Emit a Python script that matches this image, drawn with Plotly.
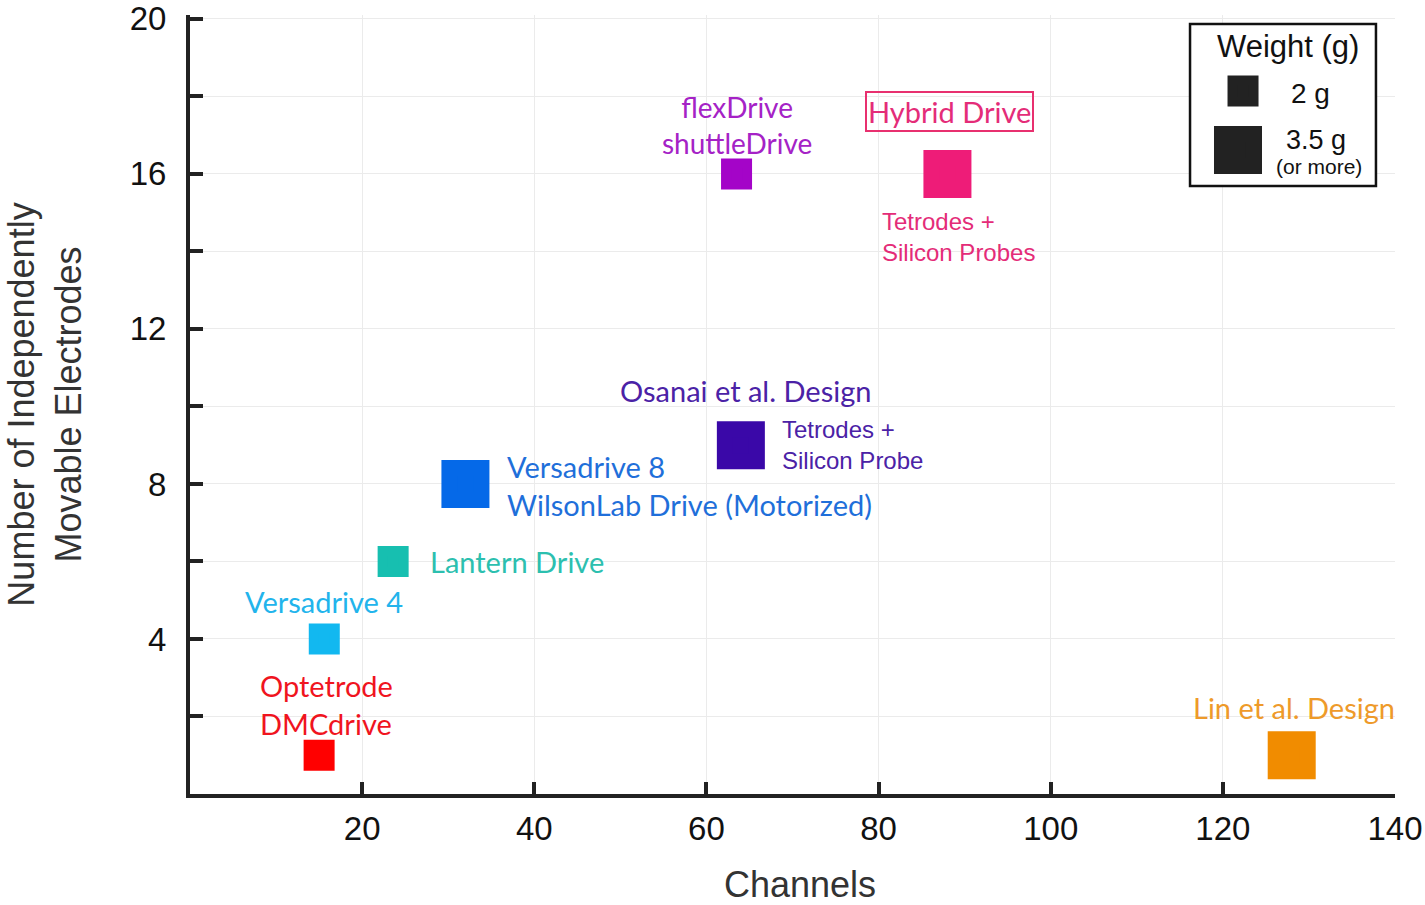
import plotly.graph_objects as go

# ---------------- data ----------------
drive_names = ["Optetrode / DMCdrive", "Versadrive 4", "Lantern Drive",
               "Versadrive 8 / WilsonLab Drive (Motorized)", "Osanai et al. Design",
               "flexDrive / shuttleDrive", "Hybrid Drive", "Lin et al. Design"]
channels = [15, 15.6, 23.6, 32, 64, 63.5, 88, 128]
electrodes = [1, 4, 6, 8, 9, 16, 16, 1]
weight_g = [2, 2, 2, 3.5, 3.5, 2, 3.5, 3.5]
marker_colors = ["#FF0000", "#12B8F0", "#17BFB0", "#0569E8", "#3A08A8",
                 "#A404C8", "#EE1C78", "#F18C00"]
text_colors = ["#F0141E", "#22B4EC", "#2CBFAF", "#1F6FDA", "#4B22A6",
               "#A522C6", "#E42C78", "#EE9A2A"]

x_ticks = [20, 40, 60, 80, 100, 120, 140]
y_ticks = [4, 8, 12, 16, 20]
y_minor = [2, 6, 10, 14, 18]

legend_weights = [2, 3.5]
legend_labels = ["2 g", "3.5 g"]

# visual side (px) and outline width used to soften the corners
SIZE_PX = {2: 31, 3.5: 48}
EDGE_PX = {2: 10, 3.5: 16}
HUM = "Lato, 'Open Sans', sans-serif"
ARIAL = "Liberation Sans, Arial, sans-serif"


def sq_marker(weights, colors):
    return dict(symbol="square",
                size=[SIZE_PX[w] - EDGE_PX[w] for w in weights],
                color=colors, opacity=1,
                line=dict(width=[EDGE_PX[w] for w in weights], color=colors))


fig = go.Figure()
fig.add_trace(go.Scatter(
    x=channels, y=electrodes, mode="markers",
    text=drive_names, hoverinfo="text",
    marker=sq_marker(weight_g, marker_colors),
    showlegend=False))

# legend keys on a hidden helper axis placed exactly on the legend box
fig.add_trace(go.Scatter(
    x=[0.285, 0.258], y=[0.586, 0.222], mode="markers", xaxis="x2", yaxis="y2",
    marker=sq_marker(legend_weights, ["#222222", "#222222"]),
    hoverinfo="skip", showlegend=False))

# --------------- labels -----------------
# (text, point index, xshift, yshift, xanchor, font, size)
labels = [
    ("flexDrive<br>shuttleDrive", 5, 0, 49, "center", HUM, 28),
    ("Tetrodes +<br>Silicon Probes", 6, -67, -63, "left", ARIAL, 24),
    ("Osanai et al. Design", 4, 5, 55, "center", HUM, 29),
    ("Tetrodes +<br>Silicon Probe", 4, 39, 0, "left", ARIAL, 24),
    ("Versadrive 8<br>WilsonLab Drive (Motorized)", 3, 40, -2, "left", HUM, 29),
    ("Lantern Drive", 2, 35, 0, "left", HUM, 29),
    ("Versadrive 4", 1, 0, 37, "center", HUM, 29),
    ("Optetrode<br>DMCdrive", 0, -61, 51, "left", HUM, 29),
    ("Lin et al. Design", 7, 2, 48, "center", HUM, 29),
]
annotations = []
for txt, i, xs, ys, xa, fam, fs in labels:
    annotations.append(dict(
        x=channels[i], y=electrodes[i], xref="x", yref="y", text=txt,
        showarrow=False, xanchor=xa, yanchor="middle", xshift=xs, yshift=ys,
        align=xa if xa != "center" else "center",
        font=dict(family=fam, size=fs, color=text_colors[i])))

annotations.append(dict(
    x=channels[6], y=electrodes[6], xref="x", yref="y", text="Hybrid Drive",
    showarrow=False, xanchor="center", yanchor="middle", xshift=2, yshift=62,
    font=dict(family=HUM, size=29, color=text_colors[6]),
    bordercolor="#E8306F", borderwidth=2, borderpad=1))

# x-axis title
annotations.append(dict(
    x=0.506, y=-0.1168, xref="paper", yref="paper", text="Channels",
    showarrow=False, xanchor="center", yanchor="middle",
    font=dict(family=ARIAL, size=36, color="#333333")))

# legend texts
annotations += [
    dict(x=0.9112, y=0.9602, xref="paper", yref="paper", text="Weight (g)",
         showarrow=False, xanchor="center", yanchor="middle",
         font=dict(family=ARIAL, size=31, color="#111111")),
    dict(x=0.9295, y=0.8986, xref="paper", yref="paper", text=legend_labels[0],
         showarrow=False, xanchor="center", yanchor="middle",
         font=dict(family=ARIAL, size=28, color="#111111")),
    dict(x=0.9344, y=0.8395, xref="paper", yref="paper", text=legend_labels[1],
         showarrow=False, xanchor="center", yanchor="middle", borderpad=0,
         font=dict(family=ARIAL, size=27, color="#111111")),
    dict(x=0.9369, y=0.8057, xref="paper", yref="paper", text="(or more)",
         showarrow=False, xanchor="center", yanchor="middle", borderpad=0,
         font=dict(family=ARIAL, size=21, color="#111111")),
]

fig.update_layout(
    width=1425, height=905,
    margin=dict(l=190, r=30, t=15, b=111, autoexpand=False),
    paper_bgcolor="white", plot_bgcolor="white",
    annotations=annotations,
    shapes=[dict(type="rect", xref="paper", yref="paper",
                 x0=0.8299, x1=0.9842, y0=0.7805, y1=0.9884, layer="above",
                 line=dict(color="#111111", width=2.5), fillcolor="rgba(0,0,0,0)")],
    xaxis=dict(range=[0, 140], tickvals=x_ticks, ticks="inside", ticklen=12,
               tickwidth=4, tickcolor="#222222", showline=True, linewidth=4,
               linecolor="#222222", showgrid=True, gridcolor="#EBEBEB", gridwidth=1,
               zeroline=False, automargin=False, ticklabeloverflow="allow",
               tickfont=dict(family=ARIAL, size=33, color="#111111"),
               ticklabelstandoff=2),
    yaxis=dict(range=[0, 20.1], tickvals=y_ticks, ticks="inside", ticklen=13,
               tickwidth=4, tickcolor="#222222", showline=True, linewidth=4,
               linecolor="#222222", showgrid=True, gridcolor="#EBEBEB", gridwidth=1,
               zeroline=False, automargin=False, ticklabeloverflow="allow",
               tickfont=dict(family=ARIAL, size=33, color="#111111"),
               ticklabelstandoff=13,
               minor=dict(tickvals=y_minor, ticks="inside", ticklen=13, tickwidth=4,
                          tickcolor="#222222", showgrid=True, gridcolor="#EBEBEB"),
               title=dict(text="Number of Independently<br>Movable Electrodes",
                          standoff=38,
                          font=dict(family=ARIAL, size=36, color="#333333"))),
    xaxis2=dict(domain=[0.8299, 0.9842], range=[0, 1], visible=False, anchor="y2",
                fixedrange=True),
    yaxis2=dict(domain=[0.7805, 0.9884], range=[0, 1], visible=False, anchor="x2",
                fixedrange=True),
)

fig.write_html("out.html")
